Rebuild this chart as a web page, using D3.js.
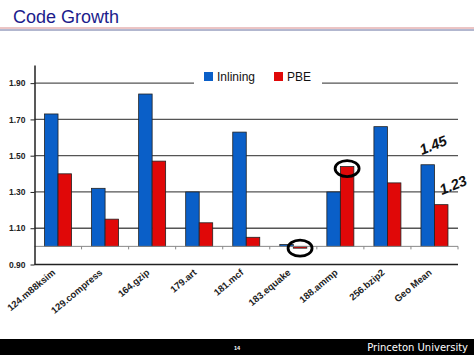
<!DOCTYPE html>
<html><head><meta charset="utf-8">
<script src="https://cdn.jsdelivr.net/npm/d3@7"></script>
<style>body{margin:0;background:#fff;}svg{display:block;}</style>
</head><body>
<svg id="c" width="474" height="355"></svg>
<script>
const categories = ["124.m88ksim","129.compress","164.gzip","179.art","181.mcf","183.equake","188.ammp","256.bzip2","Geo Mean"];
const inlining = [1.73,1.32,1.84,1.30,1.63,1.01,1.30,1.66,1.45];
const pbe = [1.40,1.15,1.47,1.13,1.05,0.99,1.44,1.35,1.23];
const seriesNames = ["Inlining","PBE"];
const yTicks = [0.90,1.10,1.30,1.50,1.70,1.90];
const annotations = ["1.45","1.23"];

const svg = d3.select("#c");
const colors = ["#0a5fc8","#e00808"];

// title & header
svg.append("text").attr("x",13).attr("y",23).attr("fill","#1c1c8c")
  .attr("font-family","Liberation Sans, Arial, sans-serif").attr("font-size",18).text("Code Growth");
svg.append("line").attr("x1",0).attr("x2",474).attr("y1",28).attr("y2",28).attr("stroke","#d98a8a").attr("stroke-width",1);
svg.append("line").attr("x1",0).attr("x2",474).attr("y1",30).attr("y2",30).attr("stroke","#6670a0").attr("stroke-width",1);

const pLeft = 34.5, pRight = 458, pTop = 65, pBottom = 264.5;
const y = d3.scaleLinear().domain([0.9,2.0]).range([pBottom, pTop]);
const x = d3.scaleBand().domain(categories).range([pLeft,pRight]).paddingInner(0).paddingOuter(0);
const inner = d3.scaleBand().domain(seriesNames).range([0, 27]);
const groupOff = (x.bandwidth()-27)/2;

// gridlines
const g = svg.append("g");
g.selectAll("line.grid").data(yTicks.slice(1)).join("line")
  .attr("x1",pLeft).attr("x2",pRight).attr("y1",d=>y(d)).attr("y2",d=>y(d))
  .attr("stroke","#555").attr("stroke-width",1.3);

// legend box (covers gridline)
const lg = svg.append("g");
lg.append("rect").attr("x",194).attr("y",68).attr("width",128).attr("height",18).attr("fill","#fff");
seriesNames.forEach((s,i)=>{
  const lx = 204 + i*70;
  lg.append("rect").attr("x",lx).attr("y",72).attr("width",9).attr("height",9).attr("fill",colors[i]);
  lg.append("text").attr("x",lx+13).attr("y",81).attr("font-family","Liberation Sans, Arial, sans-serif")
    .attr("font-size",12).attr("fill","#111").text(s);
});

// bars
const data = categories.map((c,i)=>({c, vals:[inlining[i], pbe[i]]}));
const groups = svg.append("g").selectAll("g").data(data).join("g")
  .attr("transform", d=>`translate(${x(d.c)+groupOff},0)`);
groups.selectAll("rect").data(d=>d.vals.map((v,i)=>({v, s:seriesNames[i], i}))).join("rect")
  .attr("x", d=>inner(d.s)).attr("width", inner.bandwidth())
  .attr("y", d=>Math.min(y(d.v), y(1.0))).attr("height", d=>Math.max(Math.abs(y(d.v)-y(1.0)),1.5))
  .attr("fill", d=>colors[d.i]).attr("stroke","#222").attr("stroke-width",0.8);

// baseline at 1.00 with ticks
svg.append("line").attr("x1",pLeft).attr("x2",pRight).attr("y1",y(1.0)).attr("y2",y(1.0)).attr("stroke","#888").attr("stroke-width",1);
svg.append("g").selectAll("line").data(categories).join("line")
  .attr("x1",(d,i)=>pLeft+(i+1)*x.bandwidth()).attr("x2",(d,i)=>pLeft+(i+1)*x.bandwidth())
  .attr("y1",y(1.0)).attr("y2",y(1.0)+3).attr("stroke","#888");

// axes
const yAxis = d3.axisLeft(y).tickValues(yTicks).tickFormat(d3.format(".2f")).tickSize(4).tickSizeOuter(0);
const ya = svg.append("g").attr("transform",`translate(${pLeft},0)`).call(yAxis);
ya.select(".domain").attr("stroke","#222").attr("stroke-width",1.5);
ya.selectAll(".tick line").attr("stroke","#222");
ya.selectAll("text").attr("font-family","Liberation Sans, Arial, sans-serif").attr("font-size",8.5).attr("font-weight","bold").attr("fill","#222").attr("dx",-2);
svg.append("line").attr("x1",pLeft).attr("x2",pRight).attr("y1",pBottom).attr("y2",pBottom).attr("stroke","#222").attr("stroke-width",1.5);

// x labels
svg.append("g").selectAll("text").data(categories).join("text")
  .attr("transform", d=>`translate(${x(d)+x.bandwidth()/2-2},${pBottom+9}) rotate(-40)`)
  .attr("text-anchor","end").attr("font-family","Liberation Sans, Arial, sans-serif")
  .attr("font-size",9.5).attr("font-weight","bold").attr("fill","#222").text(d=>d);

// ellipses
const ammp = categories.indexOf("188.ammp"), eq = categories.indexOf("183.equake");
[[ammp, pbe[ammp], 2],[eq, pbe[eq], 0]].forEach(([i,v,off])=>{
  svg.append("ellipse").attr("cx", x(categories[i])+groupOff+inner("PBE")+inner.bandwidth()/2)
    .attr("cy", y(v)+off).attr("rx",12).attr("ry",8).attr("fill","none").attr("stroke","#000").attr("stroke-width",2.8);
});

// annotations
const gm = categories.indexOf("Geo Mean");
annotations.forEach((t,i)=>{
  const v = i===0 ? inlining[gm] : pbe[gm];
  const ax = i===0 ? 435 : 455;
  svg.append("text").attr("transform",`translate(${ax},${y(v)-15}) rotate(-22)`)
    .attr("text-anchor","middle").attr("font-family","Liberation Sans, Arial, sans-serif")
    .attr("font-size",14.5).attr("font-weight","bold").attr("font-style","italic").attr("fill","#111").text(t);
});

// footer
svg.append("rect").attr("x",0).attr("y",339).attr("width",474).attr("height",16).attr("fill","#000");
svg.append("text").attr("x",237).attr("y",350).attr("text-anchor","middle").attr("fill","#fff")
  .attr("font-family","Liberation Sans, Arial, sans-serif").attr("font-size",5.5).attr("font-weight","bold").text("14");
svg.append("text").attr("x",468).attr("y",351).attr("text-anchor","end").attr("fill","#fff")
  .attr("font-family","DejaVu Sans, sans-serif").attr("font-size",10).text("Princeton University");
</script>
</body></html>
